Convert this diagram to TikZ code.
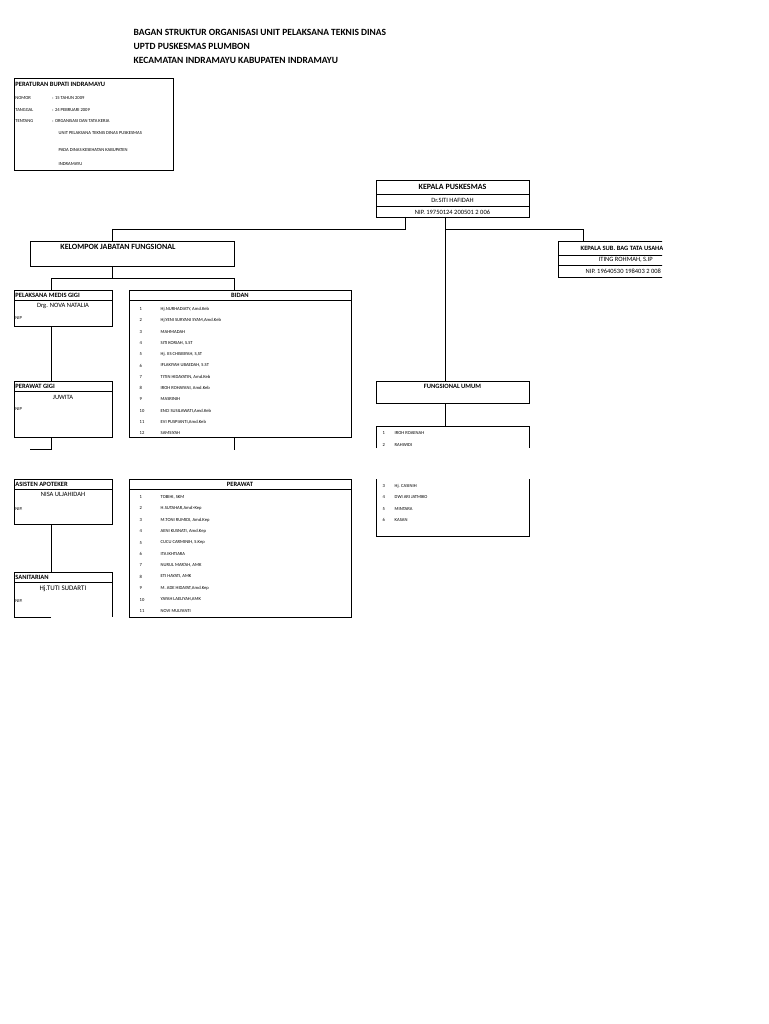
\documentclass[tikz,border=0pt]{standalone}
\usepackage{fontspec}
\setmainfont{Carlito}
\begin{document}
\begin{tikzpicture}[x=1pt,y=-1pt,line width=0.8pt,
 box/.style={draw,inner sep=0},
 ttl/.style={anchor=west,font=\fontsize{9.5}{10}\selectfont\bfseries},
 hd/.style={font=\fontsize{6.5}{7}\selectfont\bfseries},
 nm/.style={font=\fontsize{6.5}{7}\selectfont},
 sm/.style={anchor=west,font=\fontsize{4.6}{5}\selectfont}]
\useasboundingbox (0,0) rectangle (768,1024);
\node[ttl] (t1) at (130,32) {BAGAN STRUKTUR ORGANISASI UNIT PELAKSANA TEKNIS DINAS};
\node[ttl] (t2) at (130,46) {UPTD PUSKESMAS PLUMBON};
\node[ttl] (t3) at (130,60) {KECAMATAN INDRAMAYU KABUPATEN INDRAMAYU};
% peraturan
\draw (14,78) rectangle (173,170);
\node[hd,anchor=west,inner sep=1pt] (p0) at (14,84) {PERATURAN BUPATI INDRAMAYU};
\foreach \y/\a/\b in {98/NOMOR/: 15 TAHUN 2009,110/TANGGAL/: 24 PEBRUARI 2009,121/TENTANG/: ORGANISASI DAN TATA  KERJA}{
 \node[sm,inner sep=1pt] at (14,\y) {\a}; \node[sm,inner sep=0] at (52,\y) {\b};}
\node[sm] (p1) at (55,133) {UNIT PELAKSANA TEKNIS DINAS PUSKESMAS};
\node[sm] (p2) at (55,150) {PADA DINAS KESEHATAN KABUPATEN};
\node[sm] (p3) at (55,164) {INDRAMAYU};
% kepala
\draw (376,180) rectangle (529,217); \draw (376,194)--(529,194) (376,206)--(529,206);
\node[hd,font=\fontsize{8}{9}\selectfont\bfseries] (kp) at (452.5,187) {KEPALA PUSKESMAS};
\node[nm] (kn) at (452.5,200) {Dr.SITI HAFIDAH};
\node[nm] (ki) at (452.5,212) {NIP. 19750124 200501 2 006};
\coordinate (kb1) at (405,217); \coordinate (kb2) at (445,217);
% kelompok
\node[box,minimum width=204,minimum height=25,anchor=north west] (kel) at (30,241) {};
\node[font=\fontsize{8}{9}\selectfont\bfseries] at (118,247) {KELOMPOK JABATAN FUNGSIONAL};
\draw (kb1) -- (405,229) -- (112,229) -- (kel.north -| 112,0);
\draw (112,229) -- (112,241);
% kasubag
\begin{scope}
\clip (0,0) rectangle (662,1024);
\draw (558,241) rectangle (720,277); \draw (558,255)--(720,255) (558,265)--(720,265);
\node[hd,anchor=west] (ks) at (577,248) {KEPALA SUB. BAG TATA USAHA};
\node[nm,anchor=west] (ksn) at (595,260) {ITING ROHMAH, S.IP};
\node[nm,anchor=west] (ksi) at (582,271) {NIP. 19640530 198403 2 008};
\end{scope}
\draw (445,229) -- (583,229) -- (583,241);
% fungsional umum
\node[box,minimum width=153,minimum height=22,anchor=north west] (fu) at (376,381) {};
\node[hd] at (452.5,386) {FUNGSIONAL UMUM};
\draw (kb2) -- (fu.north -| 445,0);
\draw (445,403) -- (445,426);
\draw (376,448)--(376,426)--(529,426)--(529,448);
\draw (376,479)--(376,536)--(529,536)--(529,479);
\foreach \y/\n/\s in {433/1/IROH ROAENAH,445/2/RAHWIDI,486/3/Hj. CASINIH,497/4/DWI ARI JATMIKO,509/5/MINTARA,520/6/KASAN}{
 \node[sm] at (379,\y) {\n}; \node[sm] at (391,\y) {\s};}
% branch
\draw (112,266) -- (112,278); \draw (51,290)--(51,278)--(234,278)--(234,290);
% pelaksana medis gigi
\draw (14,290) rectangle (112,326); \draw (14,300)--(112,300);
\node[hd,anchor=west,inner sep=1pt] (pm) at (14,295) {PELAKSANA MEDIS GIGI};
\node[nm] (pmn) at (63,306) {Drg. NOVA NATALIA};
\node[sm,inner sep=1pt] at (14,318) {NIP};
\draw (51,326)--(51,381);
% perawat gigi
\draw (14,381) rectangle (112,437); \draw (14,391)--(112,391);
\node[hd,anchor=west,inner sep=1pt] (pg) at (14,386) {PERAWAT GIGI};
\node[nm] at (63,397) {JUWITA};
\node[sm,inner sep=1pt] at (14,409) {NIP};
\draw (51,437)--(51,449)--(30,449);
% bidan
\draw (129,290) rectangle (351,437); \draw (129,300)--(351,300);
\node[hd] (bd) at (240,295) {BIDAN};
\foreach \n/\s [count=\i from 0] in {1/Hj.NURHADIATY{,} Amd.Keb,2/Hj.YENI SURYANI SYAM{,}Amd.Keb,3/MAHMADAH,4/SITI KORIAH{,} S.ST,5/Hj. IIS CHISBIYAH{,} S{,}ST,6/IFLAKIYAH UBAEDAH{,} S.ST,7/TITIN HIDAYATIN{,}  Amd.Keb,8/IROH ROHAYANI{,}  Amd.Keb,9/MASRINIH,10/ENCI SUSILAWATI{,}Amd.Keb,11/EVI PUSPIANTI{,}Amd.Keb,12/SAMSIYAH}{
 \node[sm] at (136,309+11.3*\i) {\n}; \node[sm] at (157,309+11.3*\i) {\s};}
\draw (234,437)--(234,450);
% asisten apoteker
\draw (14,479) rectangle (112,524); \draw (14,489)--(112,489);
\node[hd,anchor=west,inner sep=1pt] (aa) at (14,484) {ASISTEN APOTEKER};
\node[nm] at (63,494) {NISA ULJAHIDAH};
\node[sm,inner sep=1pt] at (14,509) {NIP.};
\draw (51,524)--(51,572);
% sanitarian
\draw (51,617)--(14,617)--(14,572)--(112,572)--(112,617); \draw (14,582)--(112,582);
\node[hd,anchor=west,inner sep=1pt] (sn) at (14,577) {SANITARIAN};
\node[nm,font=\fontsize{7}{8}\selectfont] at (63,589) {Hj.TUTI SUDARTI};
\node[sm,inner sep=1pt] at (14,601) {NIP.};
% perawat
\draw (129,479) rectangle (351,617); \draw (129,489)--(351,489);
\node[hd] (pw) at (240,484) {PERAWAT};
\foreach \n/\s [count=\i from 0] in {1/TOBIHI{,} SKM,2/H.SUTAHAR{,}Amd>Kep,3/M.TONI RUMIDI{,} Amd.Kep,4/AENI KUSNATI{,} Amd.Kep,5/CUCU CARMINIH{,} S.Kep,6/ITA IKHTIARA,7/NURUL MAR'AH{,} AMK,8/ETI  HAYATI{,} AMK,9/M. ADE HIDAYAT{,}Amd.Kep,10/YAYAH LAELIYAH{,}AMK,11/NOVI MULYANTI}{
 \node[sm] at (136,497+11.4*\i) {\n}; \node[sm] at (157,497+11.4*\i) {\s};}
\end{tikzpicture}
\end{document}
